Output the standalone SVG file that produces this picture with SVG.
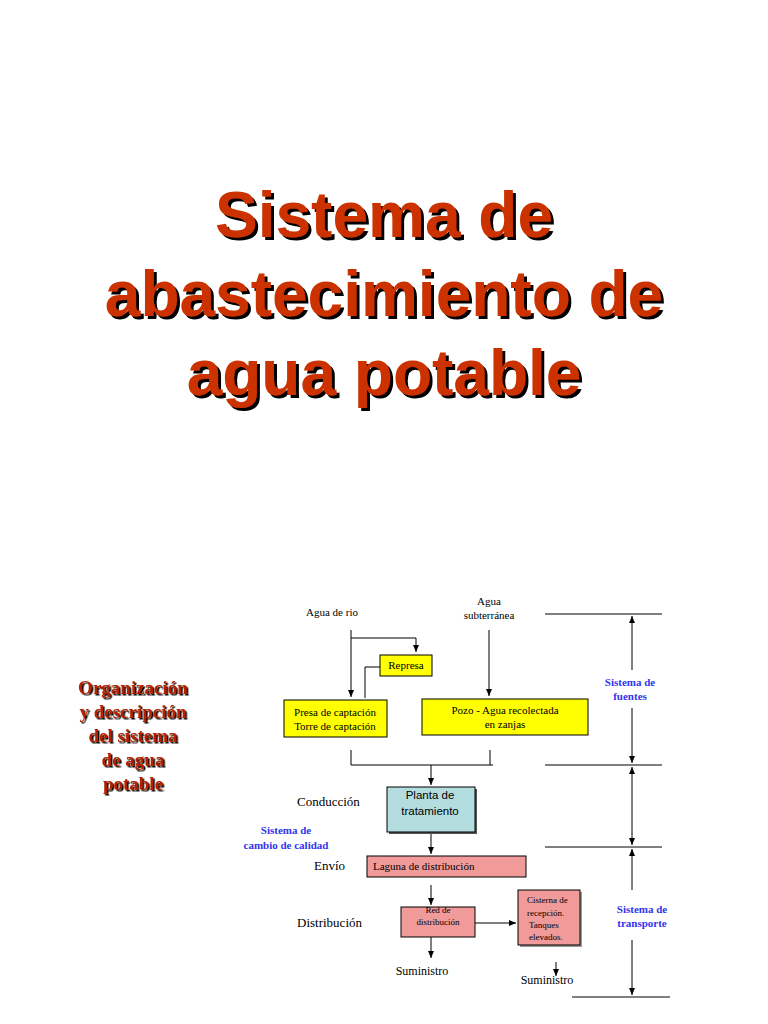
<svg xmlns="http://www.w3.org/2000/svg" width="768" height="1024" viewBox="0 0 768 1024">
<defs>
<marker id="ah" markerWidth="8" markerHeight="8" refX="7" refY="4" orient="auto" markerUnits="userSpaceOnUse"><path d="M0,1 L7,4 L0,7 Z" fill="#000"/></marker>
<filter id="sh" x="-5%" y="-20%" width="110%" height="140%"><feDropShadow dx="3" dy="3" stdDeviation="0" flood-color="#000"/></filter>
<filter id="sh2" x="-5%" y="-20%" width="110%" height="140%"><feDropShadow dx="1.5" dy="1.5" stdDeviation="0" flood-color="#000"/></filter>
<style>
.t{font-family:"Liberation Serif",serif;font-size:11px;fill:#000}
.l{font-family:"Liberation Serif",serif;font-size:13px;fill:#000}
.b{font-family:"Liberation Serif",serif;font-size:11px;font-weight:bold;fill:#3333ee}
.box{stroke:#000;stroke-width:1}
.ln{stroke:#000;stroke-width:1;fill:none}
.ttl{font-family:"Liberation Sans",Arial,sans-serif;font-size:64px;font-weight:bold;text-anchor:middle;fill:#cc3300}
.org{font-family:"Liberation Serif",serif;font-size:19px;font-weight:bold;text-anchor:middle;fill:#b32400}
</style>
</defs>
<rect width="768" height="1024" fill="#fff"/>
<g id="title" class="ttl" filter="url(#sh)"><text x="384" y="237">Sistema de</text><text x="384" y="316">abastecimiento de</text><text x="384" y="395">agua potable</text></g>
<g id="org" class="org" filter="url(#sh2)"><text x="133" y="694">Organización</text><text x="133" y="718">y descripción</text><text x="133" y="742">del sistema</text><text x="133" y="766">de agua</text><text x="133" y="790">potable</text></g>
<g id="connectors">
<path class="ln" d="M351,630 V697" marker-end="url(#ah)"/>
<path class="ln" d="M351,638 H416 V652" marker-end="url(#ah)"/>
<path class="ln" d="M365,698 V667 H380"/>
<path class="ln" d="M489,630 V696" marker-end="url(#ah)"/>
<path class="ln" d="M351,750 V765 H493 M490,750 V765"/>
<path class="ln" d="M431,765 V785" marker-end="url(#ah)"/>
<path class="ln" d="M431,833 V854" marker-end="url(#ah)"/>
<path class="ln" d="M431,885 V905" marker-end="url(#ah)"/>
<path class="ln" d="M475,923 H516" marker-end="url(#ah)"/>
<path class="ln" d="M431,937 V958" marker-end="url(#ah)"/>
<path class="ln" d="M556,962 V976" marker-end="url(#ah)"/>
<path class="ln" d="M545,614 H662 M545,765 H662 M545,847 H662 M572,997 H670"/>
<path class="ln" d="M632,670 V616" marker-end="url(#ah)"/>
<path class="ln" d="M632,708 V763" marker-end="url(#ah)"/>
<path class="ln" d="M632,800 V767" marker-end="url(#ah)"/>
<path class="ln" d="M632,800 V845" marker-end="url(#ah)"/>
<path class="ln" d="M632,890 V849" marker-end="url(#ah)"/>
<path class="ln" d="M632,940 V995" marker-end="url(#ah)"/>
</g>
<g id="labels">
<text class="t" x="332" y="616" text-anchor="middle">Agua de rio</text>
<text class="t" x="489" y="605" text-anchor="middle">Agua</text>
<text class="t" x="489" y="619" text-anchor="middle">subterránea</text>
<text class="b" x="630" y="686" text-anchor="middle">Sistema de</text>
<text class="b" x="630" y="700" text-anchor="middle">fuentes</text>
<text class="l" x="297" y="806">Conducción</text>
<text class="b" x="286" y="834" text-anchor="middle">Sistema de</text>
<text class="b" x="286" y="849" text-anchor="middle">cambio de calidad</text>
<text class="l" x="314" y="870">Envío</text>
<text class="l" x="297" y="927">Distribución</text>
<text class="t" x="422" y="975" text-anchor="middle" style="font-size:12px">Suministro</text>
<text class="t" x="547" y="984" text-anchor="middle" style="font-size:12px">Suministro</text>
<text class="b" x="642" y="913" text-anchor="middle">Sistema de</text>
<text class="b" x="642" y="927" text-anchor="middle">transporte</text>
</g>
<g id="represa"><rect class="box" x="380" y="655" width="52" height="21" fill="#ffff00"/><text class="t" x="406" y="669" text-anchor="middle">Represa</text></g>
<g id="presa"><rect class="box" x="284" y="700" width="103" height="37" fill="#ffff00"/><text class="t" x="335" y="716" text-anchor="middle">Presa de captación</text><text class="t" x="335" y="730" text-anchor="middle">Torre de captación</text></g>
<g id="pozo"><rect class="box" x="422" y="699" width="166" height="36" fill="#ffff00"/><text class="t" x="505" y="714" text-anchor="middle">Pozo - Agua recolectada</text><text class="t" x="505" y="728" text-anchor="middle">en zanjas</text></g>
<g id="planta"><rect x="389" y="789" width="88" height="45" fill="#555"/><rect class="box" x="387" y="787" width="88" height="45" fill="#b4dde0"/><text class="t" x="430" y="799" text-anchor="middle" style="font-family:'Liberation Sans',sans-serif;font-size:11.5px">Planta de</text><text class="t" x="430" y="815" text-anchor="middle" style="font-family:'Liberation Sans',sans-serif;font-size:11.5px">tratamiento</text></g>
<g id="laguna"><rect class="box" x="367" y="856" width="159" height="21" fill="#f09a9a"/><text class="t" x="373" y="870">Laguna de distribución</text></g>
<g id="red"><rect class="box" x="401" y="907" width="74" height="30" fill="#f09a9a"/><text class="t" x="438" y="913" text-anchor="middle" style="font-size:9px">Red de</text><text class="t" x="438" y="925" text-anchor="middle" style="font-size:9px">distribución</text></g>
<g id="cisterna"><rect x="520" y="892" width="62" height="55" fill="#999"/><rect class="box" x="518" y="890" width="62" height="55" fill="#f09a9a"/><text class="t" x="527" y="903" style="font-size:9px">Cisterna de</text><text class="t" x="527" y="916" style="font-size:9px">recepción.</text><text class="t" x="529" y="928" style="font-size:9px">Tanques</text><text class="t" x="529" y="940" style="font-size:9px">elevados.</text></g>
</svg>
